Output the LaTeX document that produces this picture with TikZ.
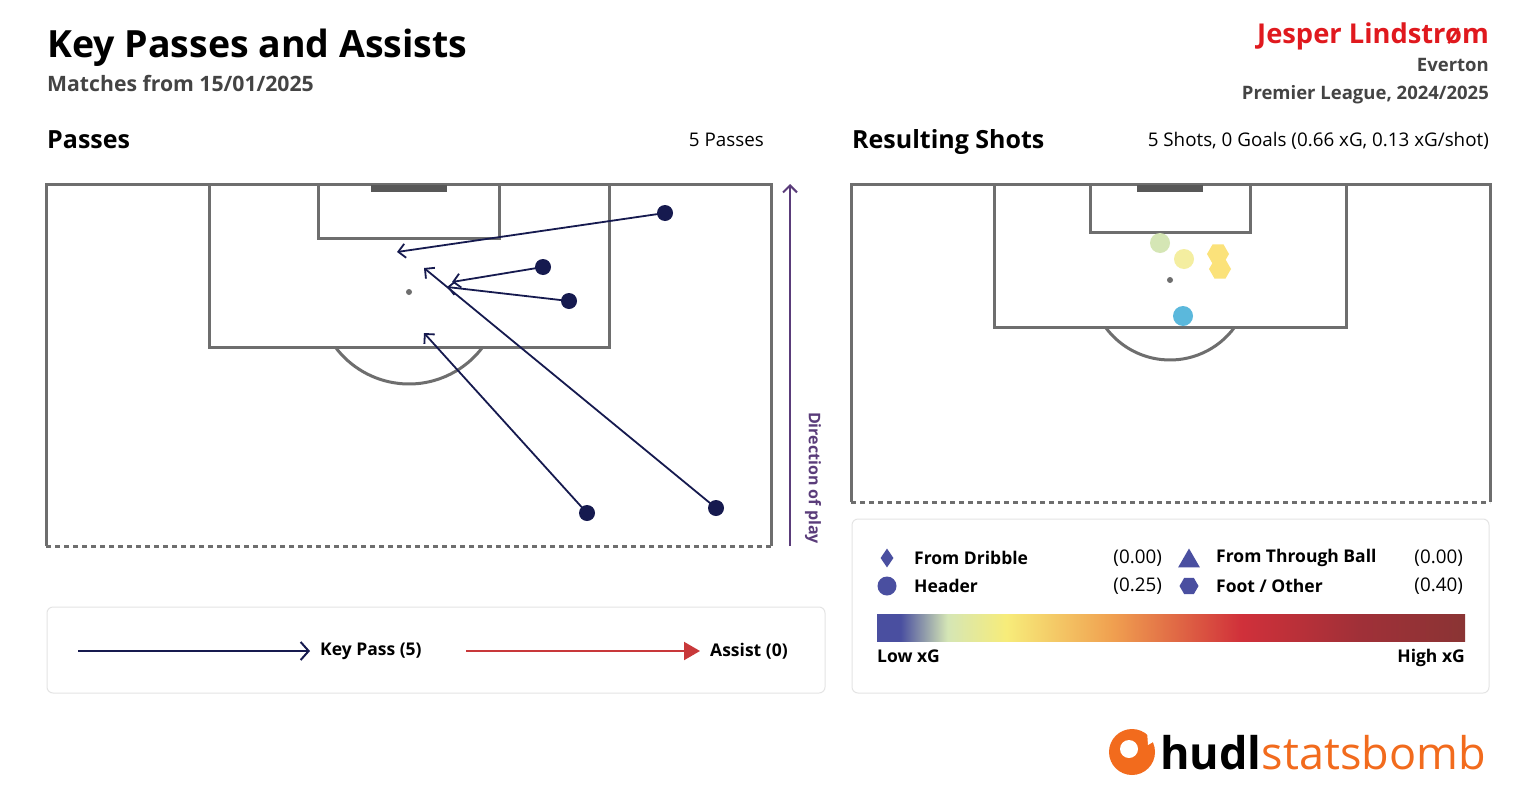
\documentclass[tikz,border=0pt]{standalone}
\usepackage{fontspec}
\setmainfont{Open Sans}
\usetikzlibrary{arrows.meta,shapes.geometric}
\definecolor{navy}{HTML}{161A4F}
\definecolor{pitch}{HTML}{6E6E6E}
\definecolor{pitchd}{HTML}{585858}
\definecolor{red1}{HTML}{E0191E}
\definecolor{purp}{HTML}{5A3C7A}
\definecolor{hudlor}{HTML}{F26B1D}
\definecolor{gtxt}{HTML}{444444}
\definecolor{legb}{HTML}{4A4FA0}
\definecolor{cg}{HTML}{D5E6B5}
\definecolor{cy}{HTML}{F4EEA0}
\definecolor{cyy}{HTML}{F7EC7A}
\definecolor{ch}{HTML}{FBE27A}
\definecolor{cb}{HTML}{5BB8DC}
\definecolor{co}{HTML}{F0A050}
\definecolor{cr}{HTML}{D0303A}
\definecolor{cr2}{HTML}{A03038}
\definecolor{cr3}{HTML}{8A3434}
\definecolor{asr}{HTML}{C8383A}
\definecolor{lgb}{HTML}{E4E4E4}
\pgfdeclarehorizontalshading{xg}{100bp}{color(0bp)=(legb);color(25bp)=(legb);color(27bp)=(legb);color(31bp)=(cg);color(36bp)=(cyy);color(45bp)=(co);color(56bp)=(cr);color(66bp)=(cr2);color(75bp)=(cr3);color(100bp)=(cr3)}
\tikzset{
 pline/.style={draw=pitch,line width=3pt},
 pass/.style={draw=navy,line width=1.8pt,-{Straight Barb[length=7pt,width=14pt]}},
 dot/.style={circle,fill=navy,inner sep=0pt,minimum size=16pt},
 lbl/.style={inner sep=0pt,font=\fontsize{17.5}{20}\selectfont\bfseries},
 sm/.style={inner sep=0pt,font=\fontsize{18.8}{22}\selectfont},
 legbox/.style={draw=lgb,rounded corners=6pt,line width=1pt},
 shot/.style={circle,inner sep=0pt,minimum size=20pt},
 hex/.style={regular polygon,regular polygon sides=6,inner sep=0pt,minimum size=22pt},
}
\begin{document}
\begin{tikzpicture}[x=1pt,y=-1pt]
\useasboundingbox[fill=white] (0,0) rectangle (1536,795);
% header
\node[anchor=base west,inner sep=0pt,font=\fontsize{37.5}{44}\selectfont\bfseries] (title) at (47,57) {Key Passes and Assists};
\node[anchor=base west,inner sep=0pt,text=gtxt,font=\fontsize{21.2}{25}\selectfont\bfseries] (sub) at (47,91) {Matches from 15/01/2025};
\node[anchor=base east,inner sep=0pt,text=red1,font=\fontsize{27.3}{32}\selectfont\bfseries] (pl) at (1489,43) {Jesper Lindstrøm};
\node[anchor=base east,inner sep=0pt,text=gtxt,font=\fontsize{18.5}{22}\selectfont\bfseries] (team) at (1489,71) {Everton};
\node[anchor=base east,inner sep=0pt,text=gtxt,font=\fontsize{18.5}{22}\selectfont\bfseries] (comp) at (1489,99) {Premier League, 2024/2025};
\node[anchor=base west,inner sep=0pt,font=\fontsize{25}{30}\selectfont\bfseries] (pt) at (47,148) {Passes};
\node[anchor=base east,sm] (np) at (764,146) {5 Passes};
\node[anchor=base west,inner sep=0pt,font=\fontsize{25}{30}\selectfont\bfseries] (st) at (852,148) {Resulting Shots};
\node[anchor=base east,sm] (ns) at (1489,146) {5 Shots, 0 Goals (0.66 xG, 0.13 xG/shot)};
% left pitch
\draw[pline] (46,546) -- (46,184) -- (771,184) -- (771,546);
\draw[pline,dash pattern=on 5pt off 4pt] (46,546) -- (771,546);
\draw[pline] (209,184) -- (209,347) -- (609,347) -- (609,184);
\draw[pline] (318,184) -- (318,238) -- (499,238) -- (499,184);
\draw[draw=pitchd,line width=7pt] (371,188) -- (447,188);
\fill[pitch] (409,292) circle (3pt);
\draw[pline] (409,292) ++(36.7:92) arc[start angle=36.7,end angle=143.3,radius=92];
\draw[draw=purp,line width=2pt,-{Straight Barb[length=7pt,width=14pt]}] (790,546) -- (790,184);
\node[rotate=-90,anchor=center,font=\fontsize{16}{18}\selectfont\bfseries,text=purp] (dir) at (813,478) {Direction of play};
% passes
\foreach \n/\sx/\sy/\ex/\ey in {a/665/213/397/252,b/543/267/452/282,c/569/301/447/287,d/587/513/424/333,e/716/508/424/268}{
 \coordinate (e\n) at (\ex,\ey);
 \node[dot] (s\n) at (\sx,\sy) {};
 \draw[pass] (s\n.center) -- (e\n);
}
% right pitch
\draw[pline] (851,502) -- (851,184) -- (1490,184) -- (1490,502);
\draw[pline,dash pattern=on 5pt off 4pt] (851,502) -- (1490,502);
\draw[pline] (994,184) -- (994,327) -- (1346,327) -- (1346,184);
\draw[pline] (1090,184) -- (1090,232) -- (1250,232) -- (1250,184);
\draw[draw=pitchd,line width=7pt] (1137,188) -- (1203,188);
\fill[pitch] (1170,280) circle (3pt);
\draw[pline] (1170,280) ++(36:80) arc[start angle=36,end angle=144,radius=80];
\node[shot,fill=cg] (s1) at (1160,243) {};
\node[shot,fill=cy] (s2) at (1184,259) {};
\node[hex,fill=ch] (s3) at (1218,254) {};
\node[hex,fill=ch] (s4) at (1220,269) {};
\node[shot,fill=cb] (s5) at (1183,316) {};
% left legend
\draw[legbox] (47,607) rectangle (825,693);
\coordinate (k1) at (78,651); \coordinate (k2) at (310,651);
\draw[draw=navy,line width=2pt,-{Straight Barb[length=8pt,width=18pt]}] (k1) -- (k2);
\node[anchor=west,lbl] (kl) at (320,651) {Key Pass (5)};
\coordinate (a1) at (466,651); \coordinate (a2) at (700,651);
\draw[draw=asr,line width=2pt,-{Triangle[length=16pt,width=18pt]}] (a1) -- (a2);
\node[anchor=west,lbl] (al) at (710,651) {Assist (0)};
% right legend
\draw[legbox] (852,519) rectangle (1489,693);
\node[diamond,fill=legb,inner sep=0pt,minimum width=13pt,minimum height=19pt] (m1) at (887,558) {};
\node[anchor=west,lbl] at (914,558) {From Dribble};
\node[anchor=east,sm] at (1162,558) {(0.00)};
\node[regular polygon,regular polygon sides=3,fill=legb,inner sep=0pt,minimum size=25pt] (m2) at (1189,561) {};
\node[anchor=west,lbl] at (1216,558) {From Through Ball};
\node[anchor=east,sm] at (1463,558) {(0.00)};
\node[circle,fill=legb,inner sep=0pt,minimum size=19pt] (m3) at (887,586) {};
\node[anchor=west,lbl] at (914,586) {Header};
\node[anchor=east,sm] at (1162,586) {(0.25)};
\node[hex,fill=legb,minimum size=19pt] (m4) at (1189,586) {};
\node[anchor=west,lbl] at (1216,586) {Foot / Other};
\node[anchor=east,sm] at (1463,586) {(0.40)};
\shade[shading=xg] (877,614) rectangle (1465,641);
\node[anchor=base west,lbl] at (877,662) {Low xG};
\node[anchor=base east,lbl] at (1465,662) {High xG};
% logo
\fill[hudlor] (1132,752) circle (23);
\fill[white] (1129,749) circle (9);
\fill[white] (1147,731) -- (1158,739) -- (1148,745) -- cycle;
\node[anchor=base west,inner sep=0pt,font=\fontsize{45}{50}\selectfont\bfseries] (hudl) at (1160,769) {hudl};
\node[anchor=base west,inner sep=0pt,text=hudlor,font=\fontsize{45}{50}\selectfont] (sb) at (hudl.base east) {statsbomb};
\end{tikzpicture}
\end{document}
